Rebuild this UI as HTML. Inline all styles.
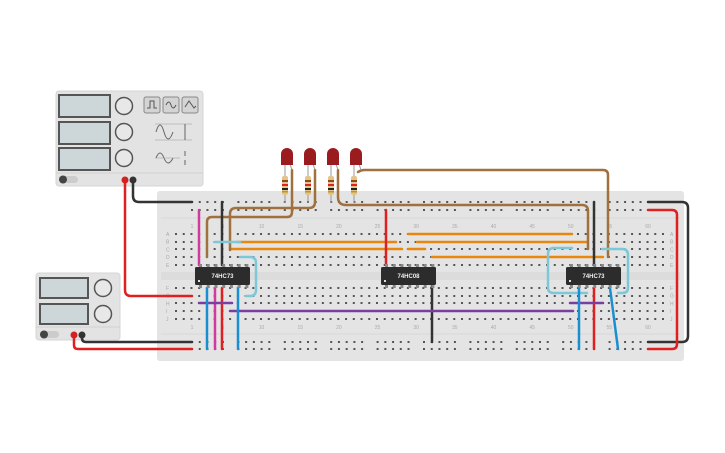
<!DOCTYPE html>
<html><head><meta charset="utf-8"><style>
html,body{margin:0;padding:0;background:#fff;width:725px;height:453px;overflow:hidden}
svg{display:block}
text{font-family:"Liberation Sans",sans-serif}
</style></head><body>
<svg id="s" width="725" height="453" viewBox="0 0 725 453" xmlns="http://www.w3.org/2000/svg">
<rect x="56" y="91" width="147" height="95" rx="3" fill="#e3e3e3" stroke="#d6d6d6"/>
<line x1="56" y1="173" x2="203" y2="173" stroke="#d0d0d0"/>
<rect x="59" y="95" width="51" height="22" fill="#cdd6d8" stroke="#555" stroke-width="2"/>
<rect x="59" y="122" width="51" height="22" fill="#cdd6d8" stroke="#555" stroke-width="2"/>
<rect x="59" y="148" width="51" height="22" fill="#cdd6d8" stroke="#555" stroke-width="2"/>
<circle cx="124" cy="106" r="8.5" fill="#e8e8e8" stroke="#555" stroke-width="1.5"/>
<circle cx="124" cy="132" r="8.5" fill="#e8e8e8" stroke="#555" stroke-width="1.5"/>
<circle cx="124" cy="158" r="8.5" fill="#e8e8e8" stroke="#555" stroke-width="1.5"/>
<rect x="144" y="97" width="16" height="16" rx="2" fill="#d4d4d4" stroke="#888"/>
<rect x="163" y="97" width="16" height="16" rx="2" fill="#d4d4d4" stroke="#888"/>
<rect x="182" y="97" width="16" height="16" rx="2" fill="#d4d4d4" stroke="#888"/>
<path d="M147 108h3v-7h4v7h3" fill="none" stroke="#555"/>
<path d="M166 105q3-6 5 0t5 0" fill="none" stroke="#555"/>
<path d="M185 107l4-6 5 7 2-2" fill="none" stroke="#555"/>
<path d="M156 132q4-14 8 0t9 0" fill="none" stroke="#666"/>
<line x1="155" y1="124" x2="192" y2="124" stroke="#999" stroke-width=".6"/><line x1="155" y1="140" x2="192" y2="140" stroke="#999" stroke-width=".6"/><line x1="185" y1="124" x2="185" y2="140" stroke="#666"/>
<path d="M156 158q4-10 8 0t9 0" fill="none" stroke="#666"/><line x1="155" y1="158" x2="180" y2="158" stroke="#999" stroke-width=".6"/><line x1="185" y1="151" x2="185" y2="156" stroke="#666"/><line x1="185" y1="160" x2="185" y2="165" stroke="#666"/>
<rect x="59" y="176" width="19" height="7" rx="3.5" fill="#ccc"/><circle cx="63" cy="179.5" r="4" fill="#444"/>
<rect x="36" y="273" width="84" height="67" rx="3" fill="#e3e3e3" stroke="#d6d6d6"/>
<line x1="36" y1="327" x2="120" y2="327" stroke="#d0d0d0"/>
<rect x="40" y="278" width="48" height="20" fill="#cdd6d8" stroke="#555" stroke-width="2"/>
<rect x="40" y="304" width="48" height="20" fill="#cdd6d8" stroke="#555" stroke-width="2"/>
<circle cx="103" cy="288" r="8.5" fill="#e8e8e8" stroke="#555" stroke-width="1.5"/>
<circle cx="103" cy="314" r="8.5" fill="#e8e8e8" stroke="#555" stroke-width="1.5"/>
<rect x="40" y="331" width="19" height="7" rx="3.5" fill="#ccc"/><circle cx="44" cy="334.5" r="4" fill="#444"/>
<rect x="157" y="191" width="527" height="170" rx="3" fill="#e4e4e4"/>
<line x1="161" y1="218" x2="680" y2="218" stroke="#d8d8d8"/>
<line x1="161" y1="334" x2="680" y2="334" stroke="#d8d8d8"/>
<rect x="161" y="272" width="519" height="8" fill="#dcdcdc"/>
<g id="dots" fill="#555"></g>
<g id="lbl" font-size="5" fill="#aaa"></g>
<g fill="none" stroke-width="2.5" stroke-linecap="round" stroke-linejoin="round">
<g stroke="#e8870e">
<path d="M237 242H396"/><path d="M230 249H402"/><path d="M408 234H572"/><path d="M417 242H587"/><path d="M408 249H425"/><path d="M432 257H603"/>
</g>
<g stroke="#a0703e">
<path d="M292 170V212q0 5-5 5H212q-5 0-5 5V257"/>
<path d="M315 170V202q0 6-6 6H236q-6 0-6 6V250"/>
<path d="M338 170V197q0 8 8 8H582q6 0 6 6V249"/>
<path d="M358 172q3-2 6-2H603q5 0 5 5V257"/>
</g>
<g stroke="#333">
<path d="M133 180V196q0 6 6 6H192"/><path d="M222 202V265"/><path d="M432 285V342"/><path d="M594 202V265"/>
<path d="M648 202H682q6 0 6 6V336q0 6-6 6H648"/>
<path d="M82 334V338q0 4 4 4H192"/>
</g>
<g stroke="#e02020">
<path d="M125 180V290q0 6 6 6H192"/><path d="M386 210V265"/><path d="M222 288V349"/><path d="M594 288V349"/>
<path d="M648 210H672q5 0 5 5V344q0 5-5 5H648"/>
<path d="M74 334V345q0 4 4 4H192"/>
</g>
<g stroke="#d13a9c"><path d="M199 210V265"/><path d="M215 288V349"/></g>
<g stroke="#7a3ea0"><path d="M199 303H232"/><path d="M230 311H573"/><path d="M570 303H603"/></g>
<g stroke="#7cc7d8">
<path d="M215 242H240"/>
<path d="M240 257H250q6 0 6 6V290q0 6-6 6H246"/>
<path d="M572 248H554q-6 0-6 6V288q0 5 6 5H587"/>
<path d="M602 249H622q6 0 6 6V288q0 5-6 5H618"/>
</g>
<g stroke="#1a8fd0"><path d="M207 288V349"/><path d="M238 288V349"/><path d="M579 288V349"/><path d="M610 288L618 349"/></g>
</g>
<g id="chips"></g>
<g id="leds"></g>
<circle cx="125" cy="180" r="3.5" fill="#d42020"/><circle cx="133" cy="180" r="3.5" fill="#333"/>
<circle cx="74" cy="335" r="3.5" fill="#d42020"/><circle cx="82" cy="335" r="3.5" fill="#333"/>
</svg>
<script>
var NS="http://www.w3.org/2000/svg",d=document.getElementById("dots"),l=document.getElementById("lbl");
function X(n){return 192+(n-1)*7.73}
function c(x,y){var e=document.createElementNS(NS,"rect");e.setAttribute("x",x-1);e.setAttribute("y",y-1);e.setAttribute("width",2);e.setAttribute("height",2);d.appendChild(e)}
function t(x,y,s,g,a){var e=document.createElementNS(NS,"text");e.setAttribute("x",x);e.setAttribute("y",y);if(a)e.setAttribute("text-anchor",a);e.textContent=s;(g||l).appendChild(e)}
[234,242,249,257,265,288,296,303,311,319].forEach(function(y){for(var n=0;n<64;n++)c(176+n*7.73,y)});
[202,210,342,349].forEach(function(y){for(var g=0;g<10;g++)for(var k=0;k<5;k++)c(192+g*46.4+k*7.73,y)});
[1,5,10,15,20,25,30,35,40,45,50,55,60].forEach(function(n){t(X(n),228,n,null,"middle");t(X(n),329,n,null,"middle")});
"ABCDE".split("").forEach(function(r,i){t(166,236+i*7.7,r);t(670,236+i*7.7,r)});
"FGHIJ".split("").forEach(function(r,i){t(166,290+i*7.7,r);t(670,290+i*7.7,r)});
var ch=document.getElementById("chips");
[[195,"74HC73"],[381,"74HC08"],[566,"74HC73"]].forEach(function(a){var x=a[0];
ch.innerHTML+='<rect x="'+x+'" y="267" width="55" height="18" rx="1.5" fill="#2c2c2c"/><rect x="'+(x+3)+'" y="280" width="2" height="2" fill="#ddd"/>';
for(var k=0;k<7;k++){ch.innerHTML+='<rect x="'+(x+4+k*7.73)+'" y="264" width="3" height="3" fill="#888"/><rect x="'+(x+4+k*7.73)+'" y="285" width="3" height="3" fill="#888"/>'}
t(x+27.5,278,a[1],ch,"middle");});
ch.setAttribute("font-size","6");ch.setAttribute("fill","#eee");ch.setAttribute("font-weight","bold");
var L=document.getElementById("leds");
[287,310,333,356].forEach(function(x){
L.innerHTML+='<line x1="'+(x-2)+'" y1="164" x2="'+(x-2)+'" y2="176" stroke="#999"/><line x1="'+(x+3)+'" y1="164" x2="'+(x+5)+'" y2="170" stroke="#999"/>'+
'<line x1="'+(x-2)+'" y1="194" x2="'+(x-2)+'" y2="203" stroke="#999"/>'+
'<path d="M'+(x-6)+' 165V154a6 6 0 0 1 12 0V165z" fill="#9b1c1f"/>'+
'<rect x="'+(x-5)+'" y="176" width="6" height="19" rx="2" fill="#e3c48a"/>'+
'<rect x="'+(x-5)+'" y="180" width="6" height="2" fill="#8a4a1a"/><rect x="'+(x-5)+'" y="184" width="6" height="2" fill="#e02020"/><rect x="'+(x-5)+'" y="188" width="6" height="2" fill="#222"/><rect x="'+(x-5)+'" y="191" width="6" height="1.5" fill="#b8962e"/>';});
</script>
</body></html>
